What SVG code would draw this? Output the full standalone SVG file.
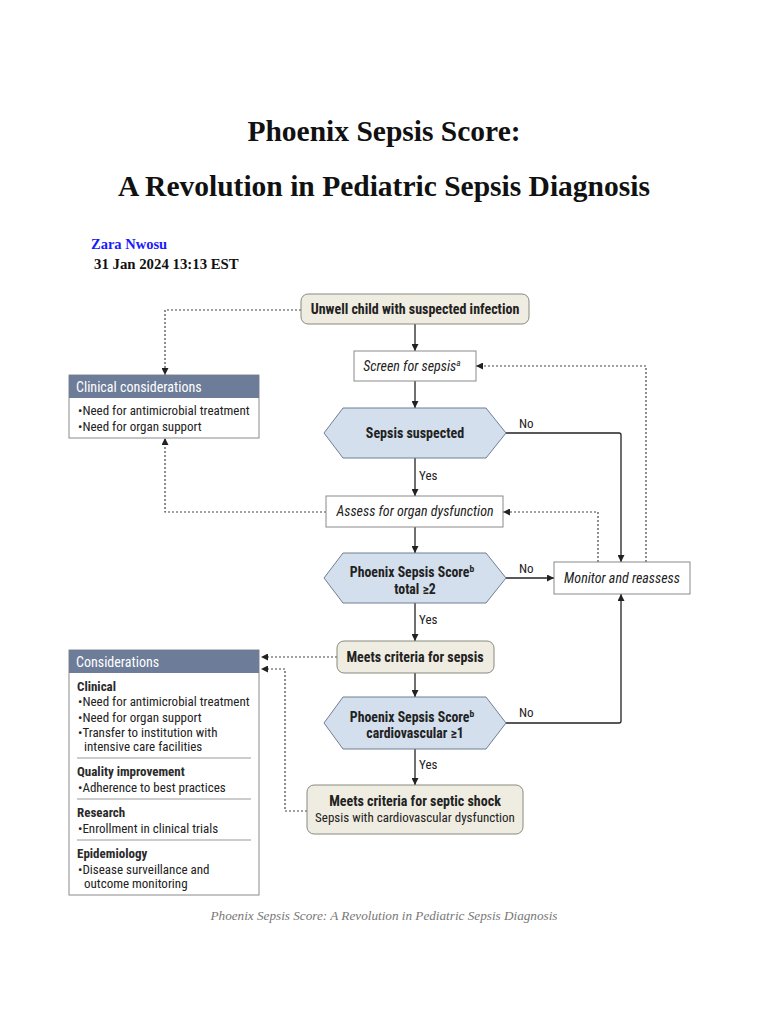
<svg xmlns="http://www.w3.org/2000/svg" width="768" height="1024" viewBox="0 0 768 1024">
<defs>
<marker id="ah" viewBox="0 0 10 10" refX="10" refY="5" markerWidth="7" markerHeight="7" markerUnits="userSpaceOnUse" orient="auto"><path d="M0,0 L10,5 L0,10 z" fill="#222"/></marker>
<style>
.t{font-family:"Liberation Serif","Times New Roman",serif;font-weight:bold;fill:#111}
.f{font-family:"Liberation Sans Narrow","Roboto Condensed","Liberation Sans",sans-serif;fill:#222}
.b{font-weight:bold}
.sh{font-weight:bold;fill:#2a2a2a}
.i{font-style:italic}
.term{fill:#efece1;stroke:#8a8a80;stroke-width:1}
.box{fill:#fff;stroke:#8a8a8a;stroke-width:1}
.hex{fill:#d3dfec;stroke:#6f7f94;stroke-width:1}
.hdr{fill:#6c7c99}
.solid{fill:none;stroke:#222;stroke-width:1.3}
.dot{fill:none;stroke:#444;stroke-width:1.2;stroke-dasharray:2 2}
.sep{stroke:#999;stroke-width:1}
</style>
</defs>
<rect width="768" height="1024" fill="#fff"/>
<text class="t" x="384" y="141" font-size="29.5" text-anchor="middle">Phoenix Sepsis Score:</text>
<text class="t" x="384" y="196" font-size="29.5" text-anchor="middle">A Revolution in Pediatric Sepsis Diagnosis</text>
<text class="t" x="91" y="249" font-size="14.5" style="fill:#1a1aff">Zara Nwosu</text>
<text class="t" x="94" y="269" font-size="14.8">31 Jan 2024 13:13 EST</text>

<g id="connectors">
<line class="solid" x1="415" y1="324" x2="415" y2="351" marker-end="url(#ah)"/>
<line class="solid" x1="415" y1="381" x2="415" y2="408" marker-end="url(#ah)"/>
<line class="solid" x1="415" y1="458" x2="415" y2="496" marker-end="url(#ah)"/>
<line class="solid" x1="415" y1="527" x2="415" y2="553" marker-end="url(#ah)"/>
<line class="solid" x1="415" y1="603" x2="415" y2="641" marker-end="url(#ah)"/>
<line class="solid" x1="415" y1="673" x2="415" y2="697" marker-end="url(#ah)"/>
<line class="solid" x1="415" y1="749" x2="415" y2="785" marker-end="url(#ah)"/>
<path class="solid" d="M506,433 H619 Q621,433 621,435 V562" marker-end="url(#ah)"/>
<line class="solid" x1="506" y1="578" x2="554" y2="578" marker-end="url(#ah)"/>
<path class="solid" d="M506,723 H619 Q621,723 621,721 V594" marker-end="url(#ah)"/>
<path class="dot" d="M598,562 V512 H503" marker-end="url(#ah)"/>
<path class="dot" d="M646,562 V366 H476" marker-end="url(#ah)"/>
<path class="dot" d="M301,310 H165 V375" marker-end="url(#ah)"/>
<path class="dot" d="M326,512 H165 V438" marker-end="url(#ah)"/>
<line class="dot" x1="337" y1="657" x2="261" y2="657" marker-end="url(#ah)"/>
<path class="dot" d="M307,811 H285 V669 H261" marker-end="url(#ah)"/>
<text class="f" x="419" y="480" font-size="13">Yes</text>
<text class="f" x="419" y="624" font-size="13">Yes</text>
<text class="f" x="419" y="769" font-size="13">Yes</text>
<text class="f" x="519" y="428" font-size="13">No</text>
<text class="f" x="519" y="573" font-size="13">No</text>
<text class="f" x="519" y="717" font-size="13">No</text>
</g>

<g id="unwell">
<rect class="term" x="301" y="294" width="228" height="30" rx="7"/>
<text class="f b" x="415" y="314" font-size="14" text-anchor="middle">Unwell child with suspected infection</text>
</g>
<g id="screen">
<rect class="box" x="354" y="351" width="122" height="30"/>
<text class="f i" x="412" y="371" font-size="14" text-anchor="middle">Screen for sepsis<tspan font-size="9.5" dy="-5">a</tspan></text>
</g>
<g id="suspected">
<polygon class="hex" points="324,433 343,408 486,408 506,433 486,458 343,458"/>
<text class="f b" x="415" y="438" font-size="14" text-anchor="middle">Sepsis suspected</text>
</g>
<g id="assess">
<rect class="box" x="326" y="496" width="177" height="31"/>
<text class="f i" x="415" y="516" font-size="14" text-anchor="middle">Assess for organ dysfunction</text>
</g>
<g id="total">
<polygon class="hex" points="324,578 343,553 486,553 506,578 486,603 343,603"/>
<text class="f b" x="412" y="577" font-size="13.8" text-anchor="middle">Phoenix Sepsis Score<tspan font-size="9.5" dy="-5">b</tspan></text>
<text class="f b" x="415" y="594" font-size="13.8" text-anchor="middle">total ≥2</text>
</g>
<g id="monitor">
<rect class="box" x="554" y="562" width="136" height="32"/>
<text class="f i" x="622" y="583" font-size="14" text-anchor="middle">Monitor and reassess</text>
</g>
<g id="meets">
<rect class="term" x="337" y="641" width="157" height="32" rx="7"/>
<text class="f b" x="415" y="662" font-size="14" text-anchor="middle">Meets criteria for sepsis</text>
</g>
<g id="cardio">
<polygon class="hex" points="324,723 343,697 486,697 506,723 486,749 343,749"/>
<text class="f b" x="412" y="722" font-size="13.8" text-anchor="middle">Phoenix Sepsis Score<tspan font-size="9.5" dy="-5">b</tspan></text>
<text class="f b" x="415" y="738" font-size="13.8" text-anchor="middle">cardiovascular ≥1</text>
</g>
<g id="shock">
<rect class="term" x="307" y="785" width="216" height="49" rx="7"/>
<text class="f b" x="415" y="806" font-size="14" text-anchor="middle">Meets criteria for septic shock</text>
<text class="f" x="415" y="822" font-size="13" text-anchor="middle">Sepsis with cardiovascular dysfunction</text>
</g>
<g id="clinical">
<rect class="box" x="69" y="375" width="190" height="63"/>
<rect class="hdr" x="69" y="375" width="190" height="23"/>
<text class="f" x="76" y="392" font-size="14" style="fill:#fff">Clinical considerations</text>
<text class="f" x="78" y="415" font-size="13">•Need for antimicrobial treatment</text>
<text class="f" x="78" y="431" font-size="13">•Need for organ support</text>
</g>
<g id="considerations">
<rect class="box" x="69" y="650" width="190" height="245"/>
<rect class="hdr" x="69" y="650" width="190" height="23"/>
<text class="f" x="76" y="667" font-size="14" style="fill:#fff">Considerations</text>
<text class="f sh" x="77" y="691" font-size="13">Clinical</text>
<text class="f" x="78" y="706" font-size="13">•Need for antimicrobial treatment</text>
<text class="f" x="78" y="722" font-size="13">•Need for organ support</text>
<text class="f" x="78" y="737" font-size="13">•Transfer to institution with</text>
<text class="f" x="84" y="751" font-size="13">intensive care facilities</text>
<line class="sep" x1="77" y1="758" x2="251" y2="758"/>
<text class="f sh" x="77" y="776" font-size="13">Quality improvement</text>
<text class="f" x="78" y="792" font-size="13">•Adherence to best practices</text>
<line class="sep" x1="77" y1="799" x2="251" y2="799"/>
<text class="f sh" x="77" y="817" font-size="13">Research</text>
<text class="f" x="78" y="833" font-size="13">•Enrollment in clinical trials</text>
<line class="sep" x1="77" y1="840" x2="251" y2="840"/>
<text class="f sh" x="77" y="858" font-size="13">Epidemiology</text>
<text class="f" x="78" y="874" font-size="13">•Disease surveillance and</text>
<text class="f" x="84" y="888" font-size="13">outcome monitoring</text>
</g>
<text x="384" y="920" font-size="13.2" text-anchor="middle" font-style="italic" font-family="Liberation Serif, serif" fill="#777">Phoenix Sepsis Score: A Revolution in Pediatric Sepsis Diagnosis</text>
</svg>
